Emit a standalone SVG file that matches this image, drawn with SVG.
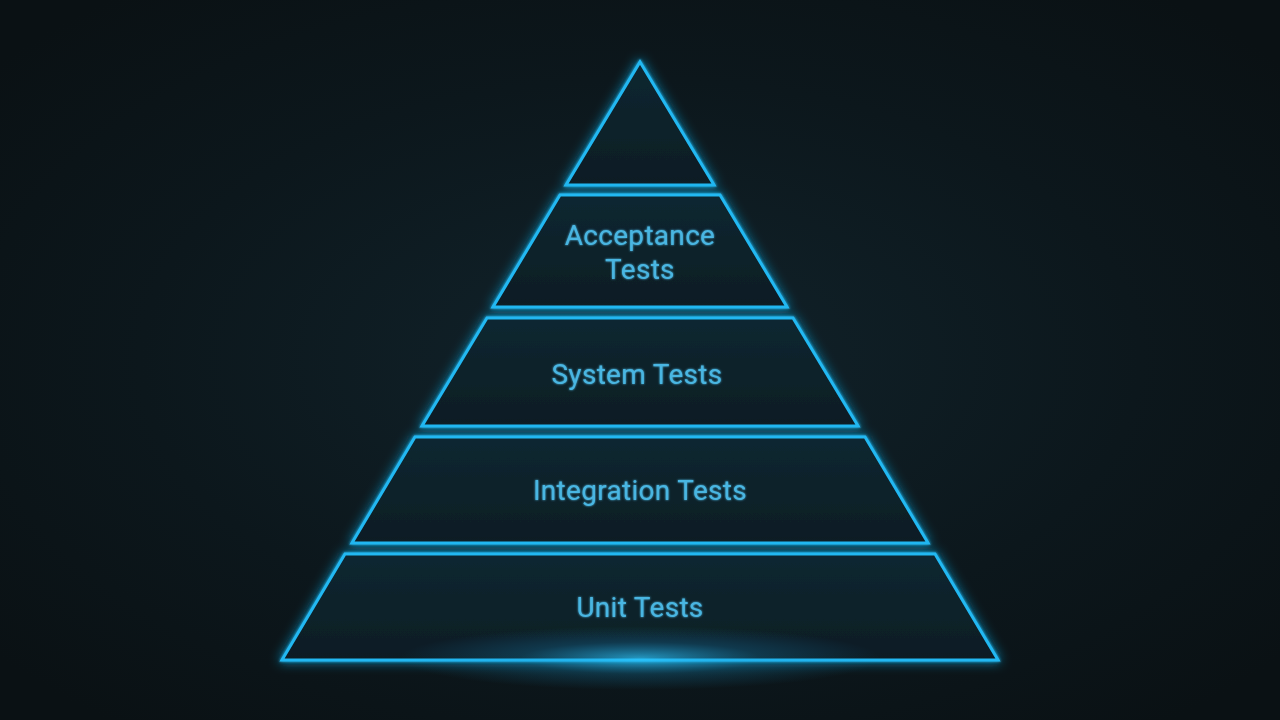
<svg xmlns="http://www.w3.org/2000/svg" width="1280" height="720" viewBox="0 0 1280 720">
<defs>
<radialGradient id="bg" cx="50%" cy="50%" r="65%">
<stop offset="0" stop-color="#11232b"/>
<stop offset="0.6" stop-color="#0c171c"/>
<stop offset="1" stop-color="#0a1114"/>
</radialGradient>
<linearGradient id="layerFill" x1="0" y1="0" x2="0" y2="1">
<stop offset="0" stop-color="#0f2731"/>
<stop offset="1" stop-color="#0c1d24"/>
</linearGradient>
<radialGradient id="baseGlow" cx="50%" cy="50%" r="50%">
<stop offset="0" stop-color="#2ec8ff" stop-opacity="0.7"/>
<stop offset="0.5" stop-color="#1a9fd8" stop-opacity="0.22"/>
<stop offset="1" stop-color="#1a9fd8" stop-opacity="0"/>
</radialGradient>
<filter id="glow" x="-20%" y="-20%" width="140%" height="140%">
<feGaussianBlur in="SourceGraphic" stdDeviation="6" result="b1"/>
<feGaussianBlur in="SourceGraphic" stdDeviation="1.5" result="b2"/>
<feMerge><feMergeNode in="b1"/><feMergeNode in="b2"/><feMergeNode in="SourceGraphic"/></feMerge>
</filter>
<filter id="textGlow" x="-10%" y="-30%" width="120%" height="160%">
<feGaussianBlur in="SourceGraphic" stdDeviation="1" result="b"/>
<feMerge><feMergeNode in="b"/><feMergeNode in="SourceGraphic"/></feMerge>
</filter>
</defs>
<style>
.layer{fill:url(#layerFill);stroke:#22b8f2;stroke-width:3;stroke-linejoin:miter;filter:url(#glow)}
.lbl{font-family:"Roboto","DejaVu Sans",sans-serif;font-size:28px;font-weight:400;letter-spacing:0.3px;fill:#4ab6e2;text-anchor:middle;filter:url(#textGlow)}
</style>
<rect width="1280" height="720" fill="url(#bg)"/>
<g id="connectors"></g>
<g id="apex">
<polygon class="layer" points="640,62 714,185 566,185"/>
</g>
<g id="acceptance">
<polygon class="layer" points="560,195 720,195 787,307 493,307"/>
<text class="lbl" x="640" y="245">Acceptance</text>
<text class="lbl" x="640" y="279">Tests</text>
</g>
<g id="system">
<polygon class="layer" points="487,318 793,318 858,426 422,426"/>
<text class="lbl" x="637" y="384">System Tests</text>
</g>
<g id="integration">
<polygon class="layer" points="415,437 865,437 928,543 352,543"/>
<text class="lbl" x="640" y="500">Integration Tests</text>
</g>
<g id="unit">
<polygon class="layer" points="345,554 935,554 998,660 282,660"/>
<text class="lbl" x="640" y="617">Unit Tests</text>
</g>
<ellipse cx="640" cy="658" rx="240" ry="32" fill="url(#baseGlow)"/>
<line x1="450" y1="660" x2="830" y2="660" stroke="#8fe6ff" stroke-width="2.5" stroke-opacity="0.8" filter="url(#textGlow)"/>
</svg>
